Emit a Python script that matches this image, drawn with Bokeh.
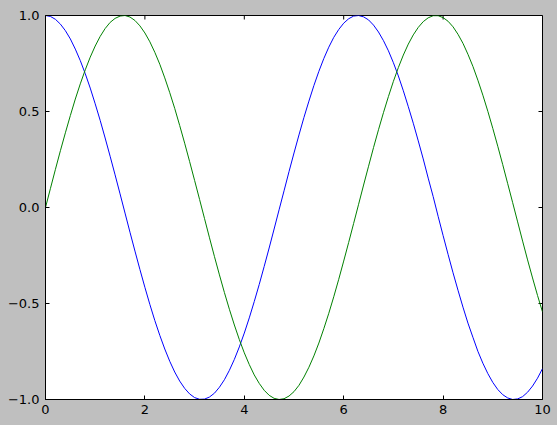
import math
from bokeh.plotting import figure
from bokeh.models import LinearAxis, FixedTicker, Range1d
from bokeh.embed import file_html
from bokeh.resources import INLINE

# Data
x = [0.0, 0.1, 0.2, 0.3, 0.4, 0.5, 0.6, 0.7, 0.8, 0.9,
     1.0, 1.1, 1.2, 1.3, 1.4, 1.5, 1.6, 1.7, 1.8, 1.9,
     2.0, 2.1, 2.2, 2.3, 2.4, 2.5, 2.6, 2.7, 2.8, 2.9,
     3.0, 3.1, 3.2, 3.3, 3.4, 3.5, 3.6, 3.7, 3.8, 3.9,
     4.0, 4.1, 4.2, 4.3, 4.4, 4.5, 4.6, 4.7, 4.8, 4.9,
     5.0, 5.1, 5.2, 5.3, 5.4, 5.5, 5.6, 5.7, 5.8, 5.9,
     6.0, 6.1, 6.2, 6.3, 6.4, 6.5, 6.6, 6.7, 6.8, 6.9,
     7.0, 7.1, 7.2, 7.3, 7.4, 7.5, 7.6, 7.7, 7.8, 7.9,
     8.0, 8.1, 8.2, 8.3, 8.4, 8.5, 8.6, 8.7, 8.8, 8.9,
     9.0, 9.1, 9.2, 9.3, 9.4, 9.5, 9.6, 9.7, 9.8, 9.9, 10.0]
blue_y = [1.000, 0.995, 0.980, 0.955, 0.921, 0.878, 0.825, 0.765, 0.697, 0.622,
          0.540, 0.454, 0.362, 0.267, 0.170, 0.071, -0.029, -0.129, -0.227, -0.323,
          -0.416, -0.505, -0.589, -0.666, -0.737, -0.801, -0.857, -0.904, -0.942, -0.971,
          -0.990, -0.999, -0.998, -0.987, -0.967, -0.936, -0.897, -0.848, -0.791, -0.726,
          -0.654, -0.575, -0.490, -0.401, -0.307, -0.211, -0.112, -0.012, 0.087, 0.187,
          0.284, 0.378, 0.469, 0.554, 0.635, 0.709, 0.776, 0.835, 0.886, 0.927,
          0.960, 0.983, 0.997, 1.000, 0.993, 0.977, 0.950, 0.914, 0.869, 0.816,
          0.754, 0.685, 0.608, 0.525, 0.439, 0.347, 0.253, 0.153, 0.057, -0.046,
          -0.146, -0.244, -0.340, -0.431, -0.519, -0.602, -0.676, -0.749, -0.811, -0.865,
          -0.911, -0.948, -0.975, -0.992, -1.000, -0.997, -0.985, -0.962, -0.930, -0.889, -0.839]
green_y = [0.000, 0.100, 0.199, 0.296, 0.389, 0.479, 0.565, 0.644, 0.717, 0.783,
           0.841, 0.891, 0.932, 0.964, 0.985, 0.997, 1.000, 0.992, 0.974, 0.946,
           0.909, 0.863, 0.808, 0.746, 0.675, 0.598, 0.516, 0.427, 0.335, 0.239,
           0.141, 0.042, -0.058, -0.158, -0.256, -0.351, -0.443, -0.530, -0.612, -0.688,
           -0.757, -0.818, -0.872, -0.916, -0.952, -0.978, -0.994, -1.000, -0.996, -0.982,
           -0.959, -0.926, -0.883, -0.832, -0.773, -0.706, -0.631, -0.551, -0.465, -0.374,
           -0.279, -0.182, -0.083, 0.017, 0.117, 0.215, 0.312, 0.405, 0.494, 0.578,
           0.657, 0.729, 0.794, 0.851, 0.899, 0.938, 0.968, 0.988, 0.999, 0.999,
           0.989, 0.970, 0.941, 0.902, 0.855, 0.798, 0.735, 0.663, 0.585, 0.501,
           0.412, 0.319, 0.223, 0.124, 0.025, -0.075, -0.175, -0.273, -0.367, -0.458, -0.544]
x_ticks = [0, 2, 4, 6, 8, 10]
y_ticks = [-1.0, -0.5, 0.0, 0.5, 1.0]
y_tick_labels = ["\u22121.0", "\u22120.5", "0.0", "0.5", "1.0"]

BG = "#bfbfbf"
FONT = "DejaVu Sans"
FS = "13px"

p = figure(width=557, height=425,
           x_range=Range1d(0, 10), y_range=Range1d(-1, 1),
           output_backend="svg", toolbar_location=None,
           x_axis_location=None, y_axis_location=None,
           min_border_left=45, min_border_right=15,
           min_border_top=15, min_border_bottom=26,
           background_fill_color="white", border_fill_color=BG)
p.outline_line_color = "black"
p.outline_line_width = 1
p.xgrid.visible = False
p.ygrid.visible = False

def style(ax, standoff):
    ax.major_tick_in = 4
    ax.major_tick_out = 0
    ax.minor_tick_line_color = None
    ax.major_tick_line_color = "black"
    ax.axis_line_color = "black"
    ax.major_label_text_font = FONT
    ax.major_label_text_font_size = FS
    ax.major_label_text_color = "black"
    ax.major_label_standoff = standoff

xb = LinearAxis(ticker=FixedTicker(ticks=x_ticks))
style(xb, 5)
yl = LinearAxis(ticker=FixedTicker(ticks=y_ticks))
yl.major_label_overrides = {v: s for v, s in zip(y_ticks, y_tick_labels)}
style(yl, 6)
p.add_layout(xb, "below")
p.add_layout(yl, "left")

# mirrored inward ticks on top and right edges
p.ray(x=x_ticks, y=[y_ticks[-1]] * len(x_ticks), length=4, length_units="screen",
      angle=-math.pi / 2, line_color="black", line_width=1)
p.ray(x=[x_ticks[-1]] * len(y_ticks), y=y_ticks, length=4, length_units="screen",
      angle=math.pi, line_color="black", line_width=1)

p.line(x, blue_y, line_color="#0000ff", line_width=1)
p.line(x, green_y, line_color="#008000", line_width=1)

html = file_html(p, INLINE)
html = html.replace("</head>", "<style>html,body{background:%s;}</style></head>" % BG, 1)
open("out.html", "w").write(html)
